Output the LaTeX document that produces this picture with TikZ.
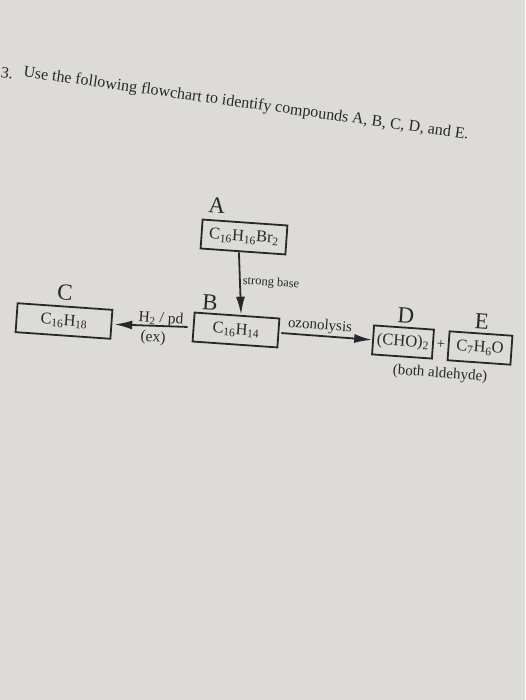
\documentclass[tikz,border=0pt]{standalone}
\usepackage{fontspec}
\setmainfont{Liberation Serif}
\usetikzlibrary{arrows.meta,positioning}
\definecolor{paper}{RGB}{221,219,215}
\definecolor{ink}{RGB}{40,40,44}
\begin{document}
\begin{tikzpicture}[x=1pt,y=-1pt,
    cmpd/.style={draw=ink,line width=1.8pt,text=ink,font=\fontsize{16.5}{16.5}\selectfont,minimum height=29pt,inner sep=2pt,rotate=-4},
    letter/.style={text=ink,font=\fontsize{23}{23}\selectfont,rotate=-4},
    cond/.style={text=ink,font=\fontsize{15}{15}\selectfont,inner sep=1pt,rotate=-4},
    rxn/.style={draw=ink,line width=1.8pt,-{Latex[length=18pt,width=9pt]}}]
    \fill[paper] (0,0) rectangle (525,700);
    \useasboundingbox (0,0) rectangle (525,700);

    % Question %
    \node[text=ink,font=\fontsize{16}{16}\selectfont,rotate=-8] (num) at (7,73) {3.};
    \node[text=ink,font=\fontsize{16}{16}\selectfont,rotate=-8] (title) at (246,104) {Use the following flowchart to identify compounds A, B, C, D, and E.};

    % Compounds %
    \node[cmpd,minimum width=85pt] (A) at (244,237) {C\textsubscript{16}H\textsubscript{16}Br\textsubscript{2}};
    \node[cmpd,minimum width=85pt] (B) at (236,330) {C\textsubscript{16}H\textsubscript{14}};
    \node[cmpd,minimum width=95pt] (C) at (64,321) {C\textsubscript{16}H\textsubscript{18}};
    \node[cmpd,minimum width=60pt] (D) at (403,342) {(CHO)\textsubscript{2}};
    \node[cmpd,minimum width=63pt] (E) at (480,348) {C\textsubscript{7}H\textsubscript{6}O};

    % Letters %
    \node[letter] (labA) at (217,206) {A};
    \node[letter] (labB) at (210,303) {B};
    \node[letter] (labC) at (65,293) {C};
    \node[letter] (labD) at (406,316) {D};
    \node[letter] (labE) at (482,321) {E};
    \node[cond] (plus) at (441,345) {+};
    \node[cond] (both) at (440,374) {(both aldehyde)};

    % Reactions %
    \draw[rxn] ([xshift=-4pt]A.south) -- ([xshift=4pt]B.north);
    \node[cond,font=\fontsize{12.5}{12.5}\selectfont] (base) at (271,283) {strong base};
    \draw[rxn] ([xshift=-5pt]B.west) -- ([xshift=2pt]C.east);
    \node[cond,font=\fontsize{15.5}{15.5}\selectfont] (hyd) at (161,319) {H\textsubscript{2} / pd};
    \node[cond,font=\fontsize{15.5}{15.5}\selectfont] (ex) at (153,338) {(ex)};
    \draw[rxn] ([xshift=2pt]B.east) -- (D.west);
    \node[cond] (ozo) at (320,326) {ozonolysis};
\end{tikzpicture}
\end{document}
